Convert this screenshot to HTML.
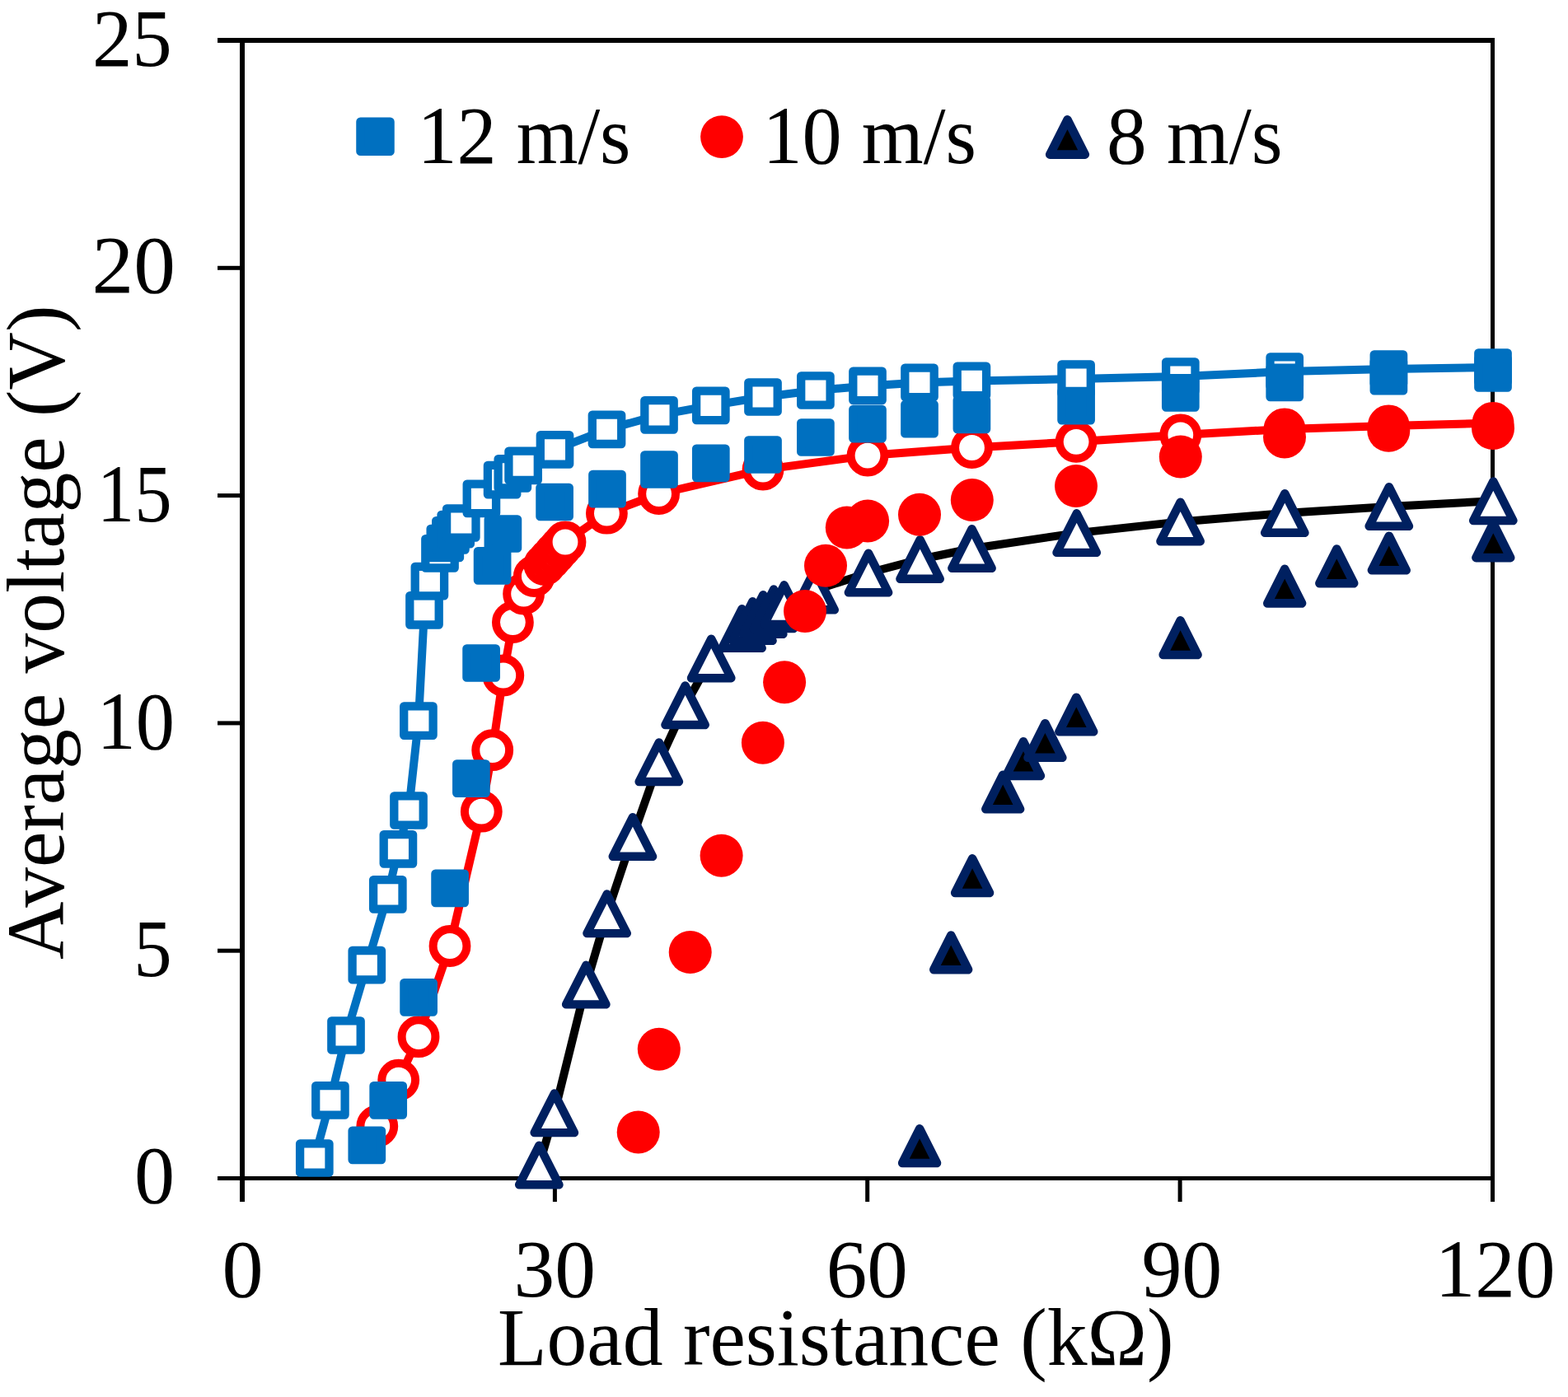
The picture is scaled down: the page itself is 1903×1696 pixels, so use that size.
<!DOCTYPE html>
<html><head><meta charset="utf-8"><title>Average voltage vs load resistance</title>
<style>html,body{margin:0;padding:0;background:#fff;overflow:hidden}svg{display:block}</style>
</head><body>
<svg width="1903" height="1696" viewBox="0 0 1903 1696"><rect width="1903" height="1696" fill="#fff"/><rect x="291" y="46" width="6" height="1387" fill="#000"/><rect x="264" y="46" width="1550" height="6" fill="#000"/><rect x="1809" y="46" width="5" height="1413" fill="#000"/><rect x="264" y="1428" width="1550" height="5" fill="#000"/><rect x="264" y="1151.7" width="30" height="5" fill="#000"/><rect x="264" y="875.4" width="30" height="5" fill="#000"/><rect x="264" y="599.1" width="30" height="5" fill="#000"/><rect x="264" y="322.8" width="30" height="5" fill="#000"/><rect x="291" y="1428" width="6" height="31" fill="#000"/><rect x="670.9" y="1428" width="5" height="31" fill="#000"/><rect x="1050.2" y="1428" width="5" height="31" fill="#000"/><rect x="1429.6" y="1428" width="5" height="31" fill="#000"/><g fill="none" stroke-linejoin="round"><path d="M381.8 1406 L400.9 1335.9 L420 1257 L445.3 1171.7 L470.8 1085.9 L483.4 1030.8 L496 984 L507.9 875.1 L515 740.8 L521.4 705.6 L534 671.8 L540.3 659.5 L546.9 649.8 L553.2 642.7 L559.8 635 L584.4 605.4 L609.6 582.6 L622.3 574.8 L635.1 565.3 L673.5 545.9 L736.5 521.3 L800 503.9 L862.8 492.4 L926 482 L989.9 474 L1053 468.4 L1116 464.4 L1179.4 462.4 L1306.1 460.1 L1432.8 457 L1559.2 451.1 L1685.4 448.1 L1812 446" stroke="#0070C0" stroke-width="10"/><g stroke-width="10.3"><rect x="364.1" y="1388.3" width="35.4" height="35.4" fill="#fff" stroke="#0070C0"/><rect x="383.2" y="1318.2" width="35.4" height="35.4" fill="#fff" stroke="#0070C0"/><rect x="402.3" y="1239.3" width="35.4" height="35.4" fill="#fff" stroke="#0070C0"/><rect x="427.6" y="1154" width="35.4" height="35.4" fill="#fff" stroke="#0070C0"/><rect x="453.1" y="1068.2" width="35.4" height="35.4" fill="#fff" stroke="#0070C0"/><rect x="465.7" y="1013.1" width="35.4" height="35.4" fill="#fff" stroke="#0070C0"/><rect x="478.3" y="966.3" width="35.4" height="35.4" fill="#fff" stroke="#0070C0"/><rect x="490.2" y="857.4" width="35.4" height="35.4" fill="#fff" stroke="#0070C0"/><rect x="497.3" y="723.1" width="35.4" height="35.4" fill="#fff" stroke="#0070C0"/><rect x="503.7" y="687.9" width="35.4" height="35.4" fill="#fff" stroke="#0070C0"/><rect x="516.3" y="654.1" width="35.4" height="35.4" fill="#fff" stroke="#0070C0"/><rect x="522.6" y="641.8" width="35.4" height="35.4" fill="#fff" stroke="#0070C0"/><rect x="529.2" y="632.1" width="35.4" height="35.4" fill="#fff" stroke="#0070C0"/><rect x="535.5" y="625" width="35.4" height="35.4" fill="#fff" stroke="#0070C0"/><rect x="542.1" y="617.3" width="35.4" height="35.4" fill="#fff" stroke="#0070C0"/><rect x="566.7" y="587.7" width="35.4" height="35.4" fill="#fff" stroke="#0070C0"/><rect x="591.9" y="564.9" width="35.4" height="35.4" fill="#fff" stroke="#0070C0"/><rect x="604.6" y="557.1" width="35.4" height="35.4" fill="#fff" stroke="#0070C0"/><rect x="617.4" y="547.6" width="35.4" height="35.4" fill="#fff" stroke="#0070C0"/><rect x="655.8" y="528.2" width="35.4" height="35.4" fill="#fff" stroke="#0070C0"/><rect x="718.8" y="503.6" width="35.4" height="35.4" fill="#fff" stroke="#0070C0"/><rect x="782.3" y="486.2" width="35.4" height="35.4" fill="#fff" stroke="#0070C0"/><rect x="845.1" y="474.7" width="35.4" height="35.4" fill="#fff" stroke="#0070C0"/><rect x="908.3" y="464.3" width="35.4" height="35.4" fill="#fff" stroke="#0070C0"/><rect x="972.2" y="456.3" width="35.4" height="35.4" fill="#fff" stroke="#0070C0"/><rect x="1035.3" y="450.7" width="35.4" height="35.4" fill="#fff" stroke="#0070C0"/><rect x="1098.3" y="446.7" width="35.4" height="35.4" fill="#fff" stroke="#0070C0"/><rect x="1161.7" y="444.7" width="35.4" height="35.4" fill="#fff" stroke="#0070C0"/><rect x="1288.4" y="442.4" width="35.4" height="35.4" fill="#fff" stroke="#0070C0"/><rect x="1415.1" y="439.3" width="35.4" height="35.4" fill="#fff" stroke="#0070C0"/><rect x="1541.5" y="433.4" width="35.4" height="35.4" fill="#fff" stroke="#0070C0"/><rect x="1667.7" y="430.4" width="35.4" height="35.4" fill="#fff" stroke="#0070C0"/><rect x="1794.3" y="428.3" width="35.4" height="35.4" fill="#fff" stroke="#0070C0"/></g><path d="M457.8 1367.2 L483.7 1311.1 L508 1258.7 L546 1148.5 L584.3 985.2 L597.7 910.7 L610.8 820 L622.4 755.5 L635.6 721 L648.3 699.6 L660.9 685.6 L667.3 678.7 L673.6 671.8 L679.8 664.9 L686 658 L736.4 623.2 L799.6 599.5 L926 570.1 L1053 553.1 L1179.5 543.5 L1306.1 536.3 L1432.8 528 L1559 521 L1685.3 517 L1812 513.5" stroke="#FF0000" stroke-width="10"/><g stroke-width="10"><circle cx="457.8" cy="1367.2" r="20.4" fill="#fff" stroke="#FF0000"/><circle cx="483.7" cy="1311.1" r="20.4" fill="#fff" stroke="#FF0000"/><circle cx="508" cy="1258.7" r="20.4" fill="#fff" stroke="#FF0000"/><circle cx="546" cy="1148.5" r="20.4" fill="#fff" stroke="#FF0000"/><circle cx="584.3" cy="985.2" r="20.4" fill="#fff" stroke="#FF0000"/><circle cx="597.7" cy="910.7" r="20.4" fill="#fff" stroke="#FF0000"/><circle cx="610.8" cy="820" r="20.4" fill="#fff" stroke="#FF0000"/><circle cx="622.4" cy="755.5" r="20.4" fill="#fff" stroke="#FF0000"/><circle cx="635.6" cy="721" r="20.4" fill="#fff" stroke="#FF0000"/><circle cx="648.3" cy="699.6" r="20.4" fill="#fff" stroke="#FF0000"/><circle cx="660.9" cy="685.6" r="20.4" fill="#fff" stroke="#FF0000"/><circle cx="667.3" cy="678.7" r="20.4" fill="#fff" stroke="#FF0000"/><circle cx="673.6" cy="671.8" r="20.4" fill="#fff" stroke="#FF0000"/><circle cx="679.8" cy="664.9" r="20.4" fill="#fff" stroke="#FF0000"/><circle cx="686" cy="658" r="20.4" fill="#fff" stroke="#FF0000"/><circle cx="736.4" cy="623.2" r="20.4" fill="#fff" stroke="#FF0000"/><circle cx="799.6" cy="599.5" r="20.4" fill="#fff" stroke="#FF0000"/><circle cx="926" cy="570.1" r="20.4" fill="#fff" stroke="#FF0000"/><circle cx="1053" cy="553.1" r="20.4" fill="#fff" stroke="#FF0000"/><circle cx="1179.5" cy="543.5" r="20.4" fill="#fff" stroke="#FF0000"/><circle cx="1306.1" cy="536.3" r="20.4" fill="#fff" stroke="#FF0000"/><circle cx="1432.8" cy="528" r="20.4" fill="#fff" stroke="#FF0000"/><circle cx="1559" cy="521" r="20.4" fill="#fff" stroke="#FF0000"/><circle cx="1685.3" cy="517" r="20.4" fill="#fff" stroke="#FF0000"/><circle cx="1812" cy="513.5" r="20.4" fill="#fff" stroke="#FF0000"/></g><path d="M654.3 1414.5 L672.8 1351.3 L711.3 1195.6 L736.6 1109.3 L767.9 1016 L799.8 925.2 L831.6 856.2 L863.2 799.4 L900.5 763 L913.4 754 L926.2 746 L939 739.3 L951.7 734.1 L988.6 716.5 L1054 695.5 L1116.6 679 L1179.5 666 L1306.7 647.1 L1432.6 633.4 L1559.3 623 L1685.8 615 L1812.3 608.2" stroke="#000" stroke-width="10"/><g stroke-width="10.4"><path d="M654.3 1390.7L678.5 1438.3L630.1 1438.3Z" fill="#fff" stroke="#002060"/><path d="M672.8 1327.5L697 1375.1L648.6 1375.1Z" fill="#fff" stroke="#002060"/><path d="M711.3 1171.8L735.5 1219.4L687.1 1219.4Z" fill="#fff" stroke="#002060"/><path d="M736.6 1085.5L760.8 1133.1L712.4 1133.1Z" fill="#fff" stroke="#002060"/><path d="M767.9 992.2L792.1 1039.8L743.7 1039.8Z" fill="#fff" stroke="#002060"/><path d="M799.8 901.4L824 949L775.6 949Z" fill="#fff" stroke="#002060"/><path d="M831.6 832.4L855.8 880L807.4 880Z" fill="#fff" stroke="#002060"/><path d="M863.2 775.6L887.4 823.2L839 823.2Z" fill="#fff" stroke="#002060"/><path d="M900.5 739.2L924.7 786.8L876.3 786.8Z" fill="#fff" stroke="#002060"/><path d="M913.4 730.2L937.6 777.8L889.2 777.8Z" fill="#fff" stroke="#002060"/><path d="M926.2 722.2L950.4 769.8L902 769.8Z" fill="#fff" stroke="#002060"/><path d="M939 715.5L963.2 763.1L914.8 763.1Z" fill="#fff" stroke="#002060"/><path d="M951.7 710.3L975.9 757.9L927.5 757.9Z" fill="#fff" stroke="#002060"/><path d="M988.6 692.7L1012.8 740.3L964.4 740.3Z" fill="#fff" stroke="#002060"/><path d="M1054 671.7L1078.2 719.3L1029.8 719.3Z" fill="#fff" stroke="#002060"/><path d="M1116.6 655.2L1140.8 702.8L1092.4 702.8Z" fill="#fff" stroke="#002060"/><path d="M1179.5 642.2L1203.7 689.8L1155.3 689.8Z" fill="#fff" stroke="#002060"/><path d="M1306.7 623.3L1330.9 670.9L1282.5 670.9Z" fill="#fff" stroke="#002060"/><path d="M1432.6 609.6L1456.8 657.2L1408.4 657.2Z" fill="#fff" stroke="#002060"/><path d="M1559.3 599.2L1583.5 646.8L1535.1 646.8Z" fill="#fff" stroke="#002060"/><path d="M1685.8 591.2L1710 638.8L1661.6 638.8Z" fill="#fff" stroke="#002060"/><path d="M1812.3 584.4L1836.5 632L1788.1 632Z" fill="#fff" stroke="#002060"/></g><g stroke-width="10.3"><rect x="427.6" y="1372.6" width="35.4" height="35.4" fill="#0070C0" stroke="#0070C0"/><rect x="453.5" y="1318.2" width="35.4" height="35.4" fill="#0070C0" stroke="#0070C0"/><rect x="490.4" y="1193.1" width="35.4" height="35.4" fill="#0070C0" stroke="#0070C0"/><rect x="528.4" y="1060.7" width="35.4" height="35.4" fill="#0070C0" stroke="#0070C0"/><rect x="554.2" y="927.4" width="35.4" height="35.4" fill="#0070C0" stroke="#0070C0"/><rect x="566.4" y="787.3" width="35.4" height="35.4" fill="#0070C0" stroke="#0070C0"/><rect x="579.9" y="669.2" width="35.4" height="35.4" fill="#0070C0" stroke="#0070C0"/><rect x="592.7" y="630.3" width="35.4" height="35.4" fill="#0070C0" stroke="#0070C0"/><rect x="655.4" y="591.8" width="35.4" height="35.4" fill="#0070C0" stroke="#0070C0"/><rect x="719.3" y="576" width="35.4" height="35.4" fill="#0070C0" stroke="#0070C0"/><rect x="782.3" y="552.3" width="35.4" height="35.4" fill="#0070C0" stroke="#0070C0"/><rect x="845.1" y="544.6" width="35.4" height="35.4" fill="#0070C0" stroke="#0070C0"/><rect x="908.3" y="534.3" width="35.4" height="35.4" fill="#0070C0" stroke="#0070C0"/><rect x="972.2" y="513.3" width="35.4" height="35.4" fill="#0070C0" stroke="#0070C0"/><rect x="1035.3" y="496.9" width="35.4" height="35.4" fill="#0070C0" stroke="#0070C0"/><rect x="1098.3" y="491" width="35.4" height="35.4" fill="#0070C0" stroke="#0070C0"/><rect x="1161.7" y="485.7" width="35.4" height="35.4" fill="#0070C0" stroke="#0070C0"/><rect x="1288.4" y="474.9" width="35.4" height="35.4" fill="#0070C0" stroke="#0070C0"/><rect x="1415.1" y="459.2" width="35.4" height="35.4" fill="#0070C0" stroke="#0070C0"/><rect x="1541.5" y="446.7" width="35.4" height="35.4" fill="#0070C0" stroke="#0070C0"/><rect x="1667.7" y="439" width="35.4" height="35.4" fill="#0070C0" stroke="#0070C0"/><rect x="1794.3" y="435.3" width="35.4" height="35.4" fill="#0070C0" stroke="#0070C0"/></g><circle cx="774.7" cy="1374.4" r="26" fill="#FF0000"/><circle cx="799.8" cy="1273.8" r="26" fill="#FF0000"/><circle cx="837.7" cy="1156" r="26" fill="#FF0000"/><circle cx="875.6" cy="1038.7" r="26" fill="#FF0000"/><circle cx="925.9" cy="901.8" r="26" fill="#FF0000"/><circle cx="952.1" cy="828.3" r="26" fill="#FF0000"/><circle cx="977" cy="742" r="26" fill="#FF0000"/><circle cx="1002" cy="686.8" r="26" fill="#FF0000"/><circle cx="1027.8" cy="640.5" r="26" fill="#FF0000"/><circle cx="1053.1" cy="632.4" r="26" fill="#FF0000"/><circle cx="1116" cy="624.8" r="26" fill="#FF0000"/><circle cx="1179.8" cy="607.1" r="26" fill="#FF0000"/><circle cx="1306" cy="590.1" r="26" fill="#FF0000"/><circle cx="1432.8" cy="554.6" r="26" fill="#FF0000"/><circle cx="1559" cy="530.4" r="26" fill="#FF0000"/><circle cx="1685.3" cy="522.8" r="26" fill="#FF0000"/><circle cx="1812" cy="520" r="26" fill="#FF0000"/><g stroke-width="10.6"><path d="M1116.1 1370.4L1137 1412L1095.2 1412Z" fill="#000" stroke="#002060"/><path d="M1154.2 1135.6L1175.1 1177.2L1133.3 1177.2Z" fill="#000" stroke="#002060"/><path d="M1180.1 1042.4L1201 1084L1159.2 1084Z" fill="#000" stroke="#002060"/><path d="M1217.2 940.7L1238.1 982.3L1196.3 982.3Z" fill="#000" stroke="#002060"/><path d="M1242 900.3L1262.9 941.9L1221.1 941.9Z" fill="#000" stroke="#002060"/><path d="M1268.4 878.2L1289.3 919.8L1247.5 919.8Z" fill="#000" stroke="#002060"/><path d="M1306.3 846.7L1327.2 888.3L1285.4 888.3Z" fill="#000" stroke="#002060"/><path d="M1432.6 753.4L1453.5 795L1411.7 795Z" fill="#000" stroke="#002060"/><path d="M1559.2 690.8L1580.1 732.4L1538.3 732.4Z" fill="#000" stroke="#002060"/><path d="M1622.3 666.6L1643.2 708.2L1601.4 708.2Z" fill="#000" stroke="#002060"/><path d="M1685.8 650.7L1706.7 692.3L1664.9 692.3Z" fill="#000" stroke="#002060"/><path d="M1812.3 635.5L1833.2 677.1L1791.4 677.1Z" fill="#000" stroke="#002060"/></g></g><g font-family="'Liberation Serif', 'Times New Roman', serif" font-size="100" fill="#000"><text x="111.9" y="80" textLength="96.96" lengthAdjust="spacingAndGlyphs">25</text><text x="111.5" y="355" textLength="101.41" lengthAdjust="spacingAndGlyphs">20</text><text x="117.8" y="632.7" textLength="90.69" lengthAdjust="spacingAndGlyphs">15</text><text x="117.4" y="908.9" textLength="94.48" lengthAdjust="spacingAndGlyphs">10</text><text x="162.3" y="1185" textLength="46.37" lengthAdjust="spacingAndGlyphs">5</text><text x="162.9" y="1460" textLength="49.05" lengthAdjust="spacingAndGlyphs">0</text><text x="269.6" y="1573.7" textLength="50.12" lengthAdjust="spacingAndGlyphs">0</text><text x="623.4" y="1573.7" textLength="99.56" lengthAdjust="spacingAndGlyphs">30</text><text x="1002.8" y="1573.7" textLength="99.13" lengthAdjust="spacingAndGlyphs">60</text><text x="1385.4" y="1573.7" textLength="97.96" lengthAdjust="spacingAndGlyphs">90</text><text x="1741.8" y="1573.7" textLength="145.62" lengthAdjust="spacingAndGlyphs">120</text><text x="603.9" y="1656.9" textLength="820.64" lengthAdjust="spacingAndGlyphs">Load resistance (k&#937;)</text><text transform="translate(76.8 1165) rotate(-90)" x="0" y="0" textLength="794.37" lengthAdjust="spacingAndGlyphs">Average voltage (V)</text><g stroke-linejoin="round"><g stroke-width="10.3"><rect x="437.4" y="147.7" width="36.2" height="36.2" fill="#0070C0" stroke="#0070C0"/></g><circle cx="876" cy="166.1" r="25.9" fill="#FF0000"/><g stroke-width="10.6"><path d="M1295.5 145.4L1316.8 187.6L1274.2 187.6Z" fill="#000" stroke="#002060"/></g></g><text x="506.5" y="198" textLength="259.00" lengthAdjust="spacingAndGlyphs">12 m/s</text><text x="925.4" y="198" textLength="259.52" lengthAdjust="spacingAndGlyphs">10 m/s</text><text x="1342.9" y="198.2" textLength="213.69" lengthAdjust="spacingAndGlyphs">8 m/s</text></g></svg>
</body></html>
